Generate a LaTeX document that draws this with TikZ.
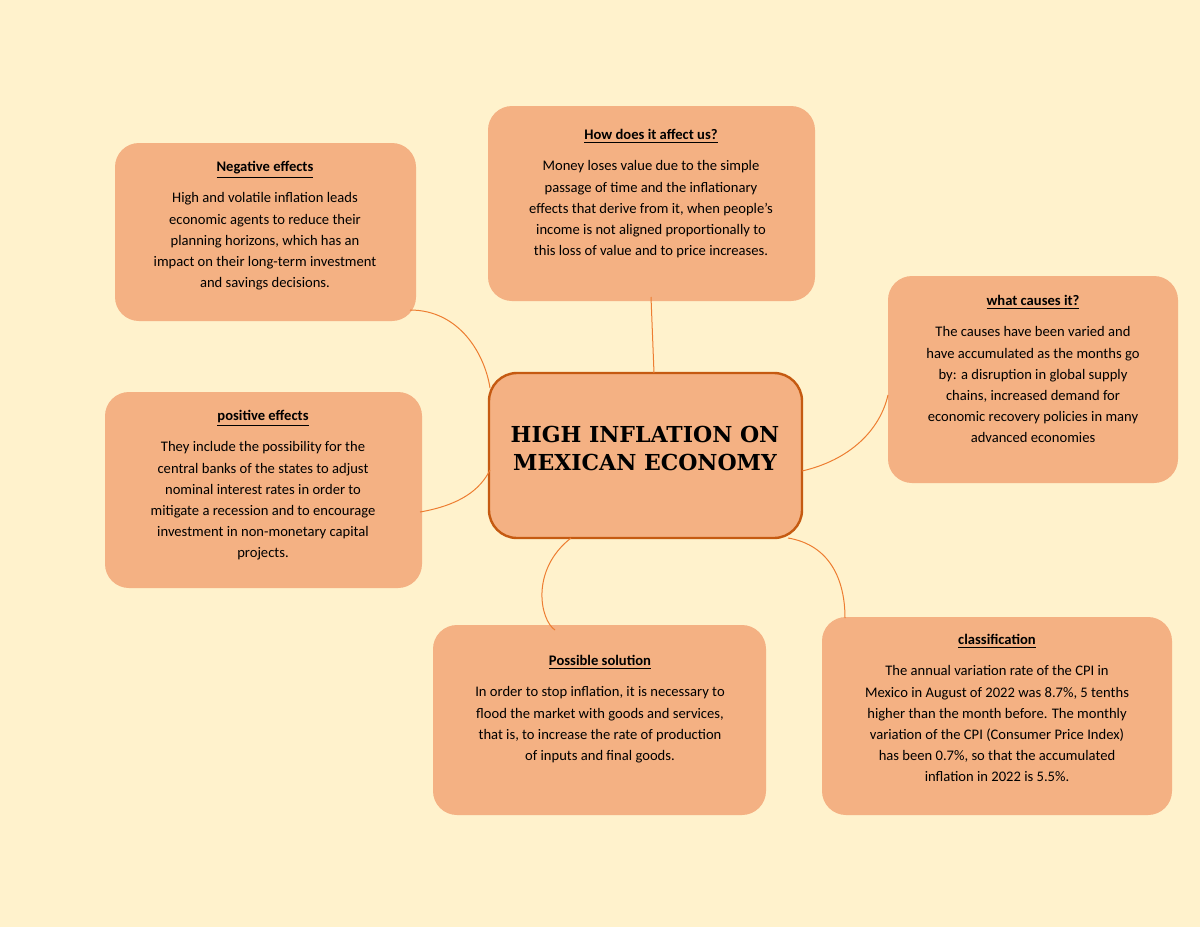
\documentclass[tikz,border=0pt]{standalone}
\usepackage{fontspec}
\setmainfont{Carlito}
\newfontfamily\titlefont{DejaVu Serif}
\begin{document}
\begin{tikzpicture}[x=0.5pt,y=-0.5pt,
  box/.style={draw=none,fill=boxfill,rounded corners=12pt},
  txt/.style={align=center,font=\fontsize{7.3}{10.6}\selectfont,inner sep=0pt,anchor=north},
  link/.style={draw=linkc,line width=0.5pt}]
\definecolor{bg}{HTML}{FFF2CC}
\definecolor{boxfill}{HTML}{F4B183}
\definecolor{linkc}{HTML}{ED7D31}
\definecolor{cborder}{HTML}{C55A11}
\fill[bg] (0,0) rectangle (1200,927);
\useasboundingbox (0,0) rectangle (1200,927);
\newcommand{\ttl}[1]{\textbf{\underline{#1}}\\[5pt]}
% boxes
\path[box] (115,143) rectangle (416,321); \node (neg) at (265,232) {};
\path[box] (488,106) rectangle (815,301); \node (how) at (651,203) {};
\path[box] (888,276) rectangle (1178,483); \node (what) at (1033,380) {};
\path[box] (105,392) rectangle (422,588); \node (pos) at (263,490) {};
\path[box] (433,625) rectangle (766,815); \node (sol) at (600,720) {};
\path[box] (822,617) rectangle (1172,815); \node (cls) at (997,716) {};
\path[draw=cborder,line width=1.2pt,fill=boxfill,rounded corners=14pt] (489,373) rectangle (802,538);
\node[font=\titlefont\bfseries\fontsize{11}{14}\selectfont,align=center] (center) at (645,448) {HIGH INFLATION ON\\MEXICAN ECONOMY};
% texts
\node[txt] at (265,161) {\ttl{Negative effects}High and volatile inflation leads\\economic agents to reduce their\\planning horizons, which has an\\impact on their long-term investment\\and savings decisions.};
\node[txt] at (651,129) {\ttl{How does it affect us?}Money loses value due to the simple\\passage of time and the inflationary\\effects that derive from it, when people's\\income is not aligned proportionally to\\this loss of value and to price increases.};
\node[txt] at (1033,295) {\ttl{what causes it?}The causes have been varied and\\have accumulated as the months go\\by: a disruption in global supply\\chains, increased demand for\\economic recovery policies in many\\advanced economies};
\node[txt] at (263,410) {\ttl{positive effects}They include the possibility for the\\central banks of the states to adjust\\nominal interest rates in order to\\mitigate a recession and to encourage\\investment in non-monetary capital\\projects.};
\node[txt] at (600,655) {\ttl{Possible solution}In order to stop inflation, it is necessary to\\flood the market with goods and services,\\that is, to increase the rate of production\\of inputs and final goods.};
\node[txt] at (997,634) {\ttl{classification}The annual variation rate of the CPI in\\Mexico in August of 2022 was 8.7\%, 5 tenths\\higher than the month before. The monthly\\variation of the CPI (Consumer Price Index)\\has been 0.7\%, so that the accumulated\\inflation in 2022 is 5.5\%.};
% connector ends
\coordinate (negE) at (410,310); \coordinate (cNW) at (490,388);
\coordinate (howS) at (651,297); \coordinate (cN) at (654,373);
\coordinate (whatW) at (888,395); \coordinate (cE) at (802,471);
\coordinate (posE) at (420,512); \coordinate (cW) at (490,470);
\coordinate (solN) at (555,630); \coordinate (cS) at (571,538);
\coordinate (clsN) at (845,618); \coordinate (cSE) at (788,538);
\draw[link] (negE) .. controls (460,310) and (485,355) .. (cNW);
\draw[link] (howS) -- (cN);
\draw[link] (cE) .. controls (850,460) and (880,430) .. (whatW);
\draw[link] (posE) .. controls (460,505) and (480,490) .. (cW);
\draw[link] (cS) .. controls (530,570) and (540,620) .. (solN);
\draw[link] (cSE) .. controls (830,545) and (845,580) .. (clsN);
\end{tikzpicture}
\end{document}
